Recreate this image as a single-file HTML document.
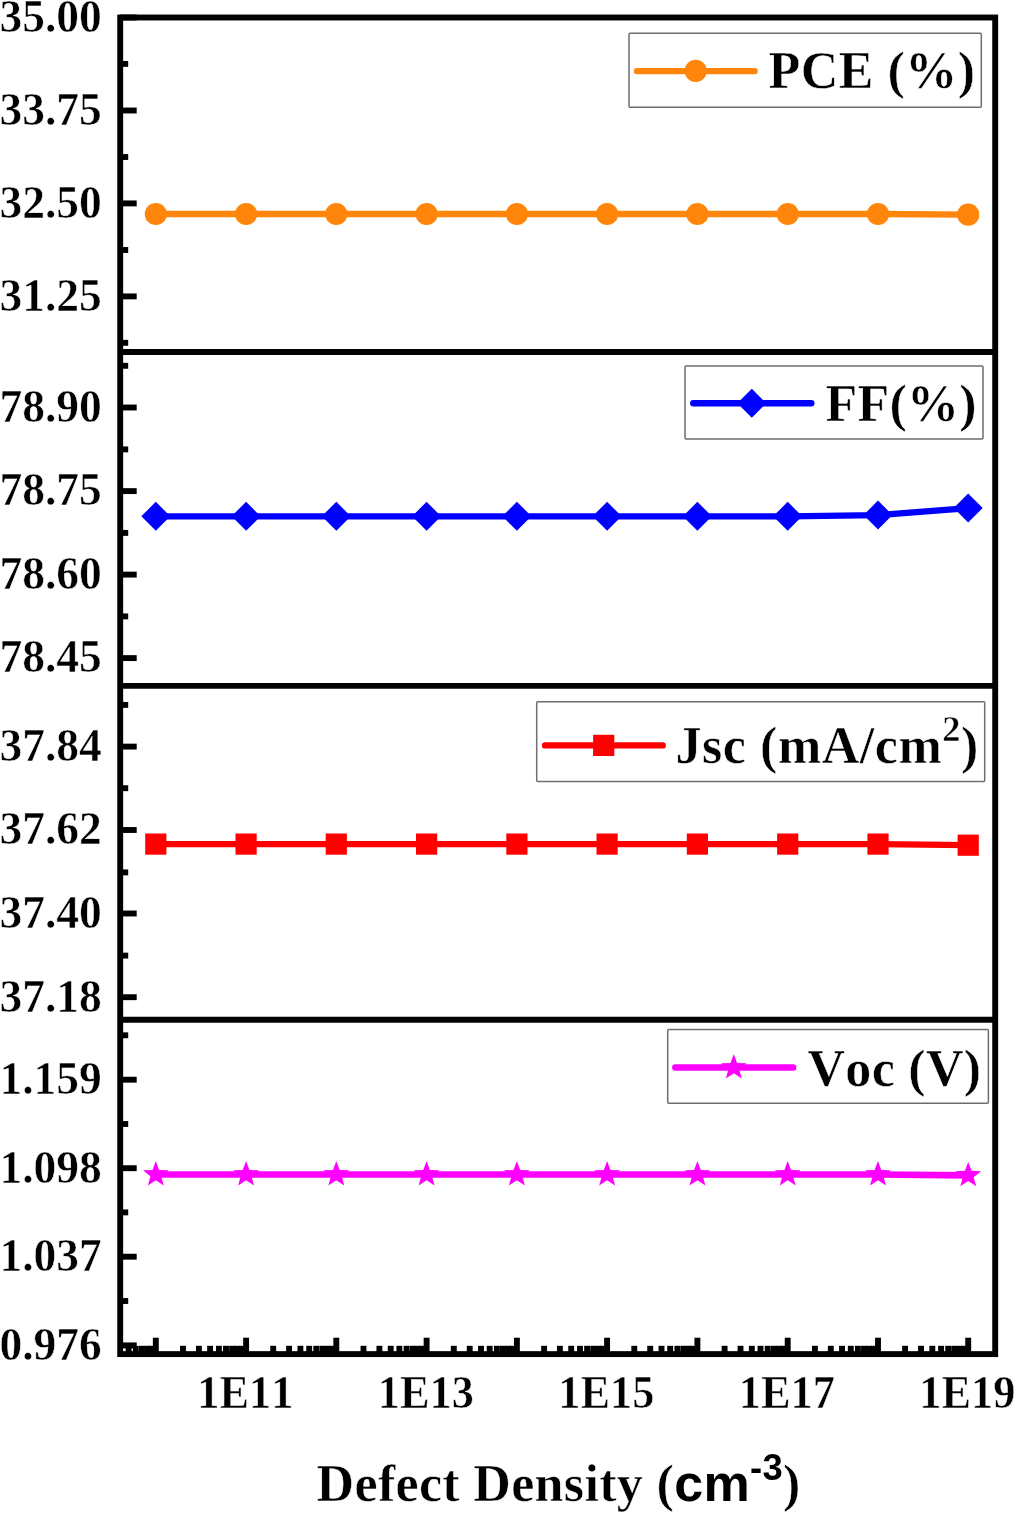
<!DOCTYPE html>
<html lang="en"><head><meta charset="utf-8"><title>Defect Density</title>
<style>html,body{margin:0;padding:0;background:#fff}body{width:1016px;height:1514px;overflow:hidden}svg{display:block}text{font-kerning:none;stroke:#fff;stroke-width:0.5px;font-family:"Liberation Serif","Times New Roman",serif;font-weight:bold;fill:#000}.tk{font-size:45.5px}.lg{font-size:52px}.ax{font-size:52px}.sans{stroke:none;font-family:"Liberation Sans",Arial,sans-serif}</style></head><body>
<svg width="1016" height="1514" viewBox="0 0 1016 1514">
<rect width="1016" height="1514" fill="#fff"/>
<polyline points="155.8,214.0 246.1,214.0 336.3,214.0 426.6,214.0 516.9,214.0 607.1,214.0 697.4,214.0 787.7,214.0 878.0,214.0 968.2,214.7" fill="none" stroke="#FF860A" stroke-width="6.3" stroke-linejoin="round"/>
<circle cx="155.8" cy="214.0" r="11.1" fill="#FF860A"/>
<circle cx="246.1" cy="214.0" r="11.1" fill="#FF860A"/>
<circle cx="336.3" cy="214.0" r="11.1" fill="#FF860A"/>
<circle cx="426.6" cy="214.0" r="11.1" fill="#FF860A"/>
<circle cx="516.9" cy="214.0" r="11.1" fill="#FF860A"/>
<circle cx="607.1" cy="214.0" r="11.1" fill="#FF860A"/>
<circle cx="697.4" cy="214.0" r="11.1" fill="#FF860A"/>
<circle cx="787.7" cy="214.0" r="11.1" fill="#FF860A"/>
<circle cx="878.0" cy="214.0" r="11.1" fill="#FF860A"/>
<circle cx="968.2" cy="214.7" r="11.1" fill="#FF860A"/>
<polyline points="155.8,516.3 246.1,516.3 336.3,516.3 426.6,516.3 516.9,516.3 607.1,516.3 697.4,516.3 787.7,516.3 878.0,515.1 968.2,508.1" fill="none" stroke="#0000FF" stroke-width="6.3" stroke-linejoin="round"/>
<polygon points="155.8,501.8 170.3,516.3 155.8,530.8 141.3,516.3" fill="#0000FF"/>
<polygon points="246.1,501.8 260.6,516.3 246.1,530.8 231.6,516.3" fill="#0000FF"/>
<polygon points="336.3,501.8 350.8,516.3 336.3,530.8 321.8,516.3" fill="#0000FF"/>
<polygon points="426.6,501.8 441.1,516.3 426.6,530.8 412.1,516.3" fill="#0000FF"/>
<polygon points="516.9,501.8 531.4,516.3 516.9,530.8 502.4,516.3" fill="#0000FF"/>
<polygon points="607.1,501.8 621.6,516.3 607.1,530.8 592.6,516.3" fill="#0000FF"/>
<polygon points="697.4,501.8 711.9,516.3 697.4,530.8 682.9,516.3" fill="#0000FF"/>
<polygon points="787.7,501.8 802.2,516.3 787.7,530.8 773.2,516.3" fill="#0000FF"/>
<polygon points="878.0,500.6 892.5,515.1 878.0,529.6 863.5,515.1" fill="#0000FF"/>
<polygon points="968.2,493.6 982.7,508.1 968.2,522.6 953.7,508.1" fill="#0000FF"/>
<polyline points="155.8,844.1 246.1,844.1 336.3,844.1 426.6,844.1 516.9,844.1 607.1,844.1 697.4,844.1 787.7,844.1 878.0,844.1 968.2,845.2" fill="none" stroke="#FF0000" stroke-width="6.3" stroke-linejoin="round"/>
<rect x="145.2" y="833.5" width="21.2" height="21.2" fill="#FF0000"/>
<rect x="235.5" y="833.5" width="21.2" height="21.2" fill="#FF0000"/>
<rect x="325.7" y="833.5" width="21.2" height="21.2" fill="#FF0000"/>
<rect x="416.0" y="833.5" width="21.2" height="21.2" fill="#FF0000"/>
<rect x="506.3" y="833.5" width="21.2" height="21.2" fill="#FF0000"/>
<rect x="596.5" y="833.5" width="21.2" height="21.2" fill="#FF0000"/>
<rect x="686.8" y="833.5" width="21.2" height="21.2" fill="#FF0000"/>
<rect x="777.1" y="833.5" width="21.2" height="21.2" fill="#FF0000"/>
<rect x="867.4" y="833.5" width="21.2" height="21.2" fill="#FF0000"/>
<rect x="957.6" y="834.6" width="21.2" height="21.2" fill="#FF0000"/>
<polyline points="155.8,1174.5 246.1,1174.5 336.3,1174.5 426.6,1174.5 516.9,1174.5 607.1,1174.5 697.4,1174.5 787.7,1174.5 878.0,1174.5 968.2,1175.4" fill="none" stroke="#FF00FF" stroke-width="6.7" stroke-linejoin="round"/>
<polygon points="155.8,1161.0 159.1,1169.9 168.6,1170.3 161.2,1176.3 163.7,1185.4 155.8,1180.2 147.9,1185.4 150.4,1176.3 143.0,1170.3 152.5,1169.9" fill="#FF00FF"/>
<polygon points="246.1,1161.0 249.4,1169.9 258.9,1170.3 251.5,1176.3 254.0,1185.4 246.1,1180.2 238.1,1185.4 240.7,1176.3 233.2,1170.3 242.7,1169.9" fill="#FF00FF"/>
<polygon points="336.3,1161.0 339.7,1169.9 349.2,1170.3 341.7,1176.3 344.3,1185.4 336.3,1180.2 328.4,1185.4 330.9,1176.3 323.5,1170.3 333.0,1169.9" fill="#FF00FF"/>
<polygon points="426.6,1161.0 429.9,1169.9 439.4,1170.3 432.0,1176.3 434.5,1185.4 426.6,1180.2 418.7,1185.4 421.2,1176.3 413.8,1170.3 423.3,1169.9" fill="#FF00FF"/>
<polygon points="516.9,1161.0 520.2,1169.9 529.7,1170.3 522.3,1176.3 524.8,1185.4 516.9,1180.2 508.9,1185.4 511.5,1176.3 504.0,1170.3 513.5,1169.9" fill="#FF00FF"/>
<polygon points="607.1,1161.0 610.5,1169.9 620.0,1170.3 612.5,1176.3 615.1,1185.4 607.1,1180.2 599.2,1185.4 601.8,1176.3 594.3,1170.3 603.8,1169.9" fill="#FF00FF"/>
<polygon points="697.4,1161.0 700.8,1169.9 710.3,1170.3 702.8,1176.3 705.4,1185.4 697.4,1180.2 689.5,1185.4 692.0,1176.3 684.6,1170.3 694.1,1169.9" fill="#FF00FF"/>
<polygon points="787.7,1161.0 791.0,1169.9 800.5,1170.3 793.1,1176.3 795.6,1185.4 787.7,1180.2 779.8,1185.4 782.3,1176.3 774.9,1170.3 784.4,1169.9" fill="#FF00FF"/>
<polygon points="878.0,1161.0 881.3,1169.9 890.8,1170.3 883.4,1176.3 885.9,1185.4 878.0,1180.2 870.0,1185.4 872.6,1176.3 865.1,1170.3 874.6,1169.9" fill="#FF00FF"/>
<polygon points="968.2,1161.9 971.6,1170.8 981.1,1171.2 973.6,1177.2 976.2,1186.3 968.2,1181.1 960.3,1186.3 962.8,1177.2 955.4,1171.2 964.9,1170.8" fill="#FF00FF"/>
<g stroke="#000" stroke-width="5.9" fill="none" stroke-linecap="butt">
<rect x="120.2" y="17.5" width="875.0" height="1336.6"/>
<line x1="120.2" y1="352.0" x2="995.2" y2="352.0"/>
<line x1="120.2" y1="685.9" x2="995.2" y2="685.9"/>
<line x1="120.2" y1="1019.8" x2="995.2" y2="1019.8"/>
<line x1="120.2" y1="17.5" x2="136.7" y2="17.5"/>
<line x1="120.2" y1="110.5" x2="136.7" y2="110.5"/>
<line x1="120.2" y1="203.4" x2="136.7" y2="203.4"/>
<line x1="120.2" y1="296.4" x2="136.7" y2="296.4"/>
<line x1="120.2" y1="407.5" x2="136.7" y2="407.5"/>
<line x1="120.2" y1="491.1" x2="136.7" y2="491.1"/>
<line x1="120.2" y1="574.6" x2="136.7" y2="574.6"/>
<line x1="120.2" y1="658.1" x2="136.7" y2="658.1"/>
<line x1="120.2" y1="746.6" x2="136.7" y2="746.6"/>
<line x1="120.2" y1="830.0" x2="136.7" y2="830.0"/>
<line x1="120.2" y1="913.5" x2="136.7" y2="913.5"/>
<line x1="120.2" y1="997.2" x2="136.7" y2="997.2"/>
<line x1="120.2" y1="1079.7" x2="136.7" y2="1079.7"/>
<line x1="120.2" y1="1168.2" x2="136.7" y2="1168.2"/>
<line x1="120.2" y1="1256.7" x2="136.7" y2="1256.7"/>
<line x1="120.2" y1="1345.4" x2="136.7" y2="1345.4"/>
<line x1="120.2" y1="63.9" x2="128.2" y2="63.9"/>
<line x1="120.2" y1="157.0" x2="128.2" y2="157.0"/>
<line x1="120.2" y1="250.0" x2="128.2" y2="250.0"/>
<line x1="120.2" y1="342.8" x2="128.2" y2="342.8"/>
<line x1="120.2" y1="365.8" x2="128.2" y2="365.8"/>
<line x1="120.2" y1="449.4" x2="128.2" y2="449.4"/>
<line x1="120.2" y1="532.9" x2="128.2" y2="532.9"/>
<line x1="120.2" y1="616.4" x2="128.2" y2="616.4"/>
<line x1="120.2" y1="704.9" x2="128.2" y2="704.9"/>
<line x1="120.2" y1="788.2" x2="128.2" y2="788.2"/>
<line x1="120.2" y1="872.4" x2="128.2" y2="872.4"/>
<line x1="120.2" y1="955.6" x2="128.2" y2="955.6"/>
<line x1="120.2" y1="1035.3" x2="128.2" y2="1035.3"/>
<line x1="120.2" y1="1124.0" x2="128.2" y2="1124.0"/>
<line x1="120.2" y1="1212.4" x2="128.2" y2="1212.4"/>
<line x1="120.2" y1="1301.0" x2="128.2" y2="1301.0"/>
<line x1="128.6" y1="1354.1" x2="128.6" y2="1345.8"/>
<line x1="135.8" y1="1354.1" x2="135.8" y2="1345.8"/>
<line x1="141.8" y1="1354.1" x2="141.8" y2="1345.8"/>
<line x1="147.1" y1="1354.1" x2="147.1" y2="1345.8"/>
<line x1="151.7" y1="1354.1" x2="151.7" y2="1345.8"/>
<line x1="155.8" y1="1354.1" x2="155.8" y2="1337.7"/>
<line x1="183.0" y1="1354.1" x2="183.0" y2="1345.8"/>
<line x1="198.9" y1="1354.1" x2="198.9" y2="1345.8"/>
<line x1="210.1" y1="1354.1" x2="210.1" y2="1345.8"/>
<line x1="218.9" y1="1354.1" x2="218.9" y2="1345.8"/>
<line x1="226.0" y1="1354.1" x2="226.0" y2="1345.8"/>
<line x1="232.1" y1="1354.1" x2="232.1" y2="1345.8"/>
<line x1="237.3" y1="1354.1" x2="237.3" y2="1345.8"/>
<line x1="241.9" y1="1354.1" x2="241.9" y2="1345.8"/>
<line x1="246.1" y1="1354.1" x2="246.1" y2="1337.7"/>
<line x1="273.2" y1="1354.1" x2="273.2" y2="1345.8"/>
<line x1="289.1" y1="1354.1" x2="289.1" y2="1345.8"/>
<line x1="300.4" y1="1354.1" x2="300.4" y2="1345.8"/>
<line x1="309.2" y1="1354.1" x2="309.2" y2="1345.8"/>
<line x1="316.3" y1="1354.1" x2="316.3" y2="1345.8"/>
<line x1="322.4" y1="1354.1" x2="322.4" y2="1345.8"/>
<line x1="327.6" y1="1354.1" x2="327.6" y2="1345.8"/>
<line x1="332.2" y1="1354.1" x2="332.2" y2="1345.8"/>
<line x1="336.3" y1="1354.1" x2="336.3" y2="1337.7"/>
<line x1="363.5" y1="1354.1" x2="363.5" y2="1345.8"/>
<line x1="379.4" y1="1354.1" x2="379.4" y2="1345.8"/>
<line x1="390.7" y1="1354.1" x2="390.7" y2="1345.8"/>
<line x1="399.4" y1="1354.1" x2="399.4" y2="1345.8"/>
<line x1="406.6" y1="1354.1" x2="406.6" y2="1345.8"/>
<line x1="412.6" y1="1354.1" x2="412.6" y2="1345.8"/>
<line x1="417.9" y1="1354.1" x2="417.9" y2="1345.8"/>
<line x1="422.5" y1="1354.1" x2="422.5" y2="1345.8"/>
<line x1="426.6" y1="1354.1" x2="426.6" y2="1337.7"/>
<line x1="453.8" y1="1354.1" x2="453.8" y2="1345.8"/>
<line x1="469.7" y1="1354.1" x2="469.7" y2="1345.8"/>
<line x1="481.0" y1="1354.1" x2="481.0" y2="1345.8"/>
<line x1="489.7" y1="1354.1" x2="489.7" y2="1345.8"/>
<line x1="496.9" y1="1354.1" x2="496.9" y2="1345.8"/>
<line x1="502.9" y1="1354.1" x2="502.9" y2="1345.8"/>
<line x1="508.1" y1="1354.1" x2="508.1" y2="1345.8"/>
<line x1="512.7" y1="1354.1" x2="512.7" y2="1345.8"/>
<line x1="516.9" y1="1354.1" x2="516.9" y2="1337.7"/>
<line x1="544.1" y1="1354.1" x2="544.1" y2="1345.8"/>
<line x1="559.9" y1="1354.1" x2="559.9" y2="1345.8"/>
<line x1="571.2" y1="1354.1" x2="571.2" y2="1345.8"/>
<line x1="580.0" y1="1354.1" x2="580.0" y2="1345.8"/>
<line x1="587.1" y1="1354.1" x2="587.1" y2="1345.8"/>
<line x1="593.2" y1="1354.1" x2="593.2" y2="1345.8"/>
<line x1="598.4" y1="1354.1" x2="598.4" y2="1345.8"/>
<line x1="603.0" y1="1354.1" x2="603.0" y2="1345.8"/>
<line x1="607.1" y1="1354.1" x2="607.1" y2="1337.7"/>
<line x1="634.3" y1="1354.1" x2="634.3" y2="1345.8"/>
<line x1="650.2" y1="1354.1" x2="650.2" y2="1345.8"/>
<line x1="661.5" y1="1354.1" x2="661.5" y2="1345.8"/>
<line x1="670.2" y1="1354.1" x2="670.2" y2="1345.8"/>
<line x1="677.4" y1="1354.1" x2="677.4" y2="1345.8"/>
<line x1="683.4" y1="1354.1" x2="683.4" y2="1345.8"/>
<line x1="688.7" y1="1354.1" x2="688.7" y2="1345.8"/>
<line x1="693.3" y1="1354.1" x2="693.3" y2="1345.8"/>
<line x1="697.4" y1="1354.1" x2="697.4" y2="1337.7"/>
<line x1="724.6" y1="1354.1" x2="724.6" y2="1345.8"/>
<line x1="740.5" y1="1354.1" x2="740.5" y2="1345.8"/>
<line x1="751.8" y1="1354.1" x2="751.8" y2="1345.8"/>
<line x1="760.5" y1="1354.1" x2="760.5" y2="1345.8"/>
<line x1="767.7" y1="1354.1" x2="767.7" y2="1345.8"/>
<line x1="773.7" y1="1354.1" x2="773.7" y2="1345.8"/>
<line x1="778.9" y1="1354.1" x2="778.9" y2="1345.8"/>
<line x1="783.6" y1="1354.1" x2="783.6" y2="1345.8"/>
<line x1="787.7" y1="1354.1" x2="787.7" y2="1337.7"/>
<line x1="814.9" y1="1354.1" x2="814.9" y2="1345.8"/>
<line x1="830.8" y1="1354.1" x2="830.8" y2="1345.8"/>
<line x1="842.0" y1="1354.1" x2="842.0" y2="1345.8"/>
<line x1="850.8" y1="1354.1" x2="850.8" y2="1345.8"/>
<line x1="857.9" y1="1354.1" x2="857.9" y2="1345.8"/>
<line x1="864.0" y1="1354.1" x2="864.0" y2="1345.8"/>
<line x1="869.2" y1="1354.1" x2="869.2" y2="1345.8"/>
<line x1="873.8" y1="1354.1" x2="873.8" y2="1345.8"/>
<line x1="878.0" y1="1354.1" x2="878.0" y2="1337.7"/>
<line x1="905.1" y1="1354.1" x2="905.1" y2="1345.8"/>
<line x1="921.0" y1="1354.1" x2="921.0" y2="1345.8"/>
<line x1="932.3" y1="1354.1" x2="932.3" y2="1345.8"/>
<line x1="941.1" y1="1354.1" x2="941.1" y2="1345.8"/>
<line x1="948.2" y1="1354.1" x2="948.2" y2="1345.8"/>
<line x1="954.2" y1="1354.1" x2="954.2" y2="1345.8"/>
<line x1="959.5" y1="1354.1" x2="959.5" y2="1345.8"/>
<line x1="964.1" y1="1354.1" x2="964.1" y2="1345.8"/>
<line x1="968.2" y1="1354.1" x2="968.2" y2="1337.7"/>
</g>
<text class="tk" transform="translate(101.8,31.8) scale(1,1)" text-anchor="end">35.00</text>
<text class="tk" transform="translate(101.8,124.8) scale(1,1)" text-anchor="end">33.75</text>
<text class="tk" transform="translate(101.8,217.7) scale(1,1)" text-anchor="end">32.50</text>
<text class="tk" transform="translate(101.8,310.7) scale(1,1)" text-anchor="end">31.25</text>
<text class="tk" transform="translate(101.8,421.8) scale(1,1)" text-anchor="end">78.90</text>
<text class="tk" transform="translate(101.8,505.4) scale(1,1)" text-anchor="end">78.75</text>
<text class="tk" transform="translate(101.8,588.9) scale(1,1)" text-anchor="end">78.60</text>
<text class="tk" transform="translate(101.8,672.4) scale(1,1)" text-anchor="end">78.45</text>
<text class="tk" transform="translate(101.8,760.9) scale(1,1)" text-anchor="end">37.84</text>
<text class="tk" transform="translate(101.8,844.3) scale(1,1)" text-anchor="end">37.62</text>
<text class="tk" transform="translate(101.8,927.8) scale(1,1)" text-anchor="end">37.40</text>
<text class="tk" transform="translate(101.8,1011.5) scale(1,1)" text-anchor="end">37.18</text>
<text class="tk" transform="translate(101.8,1094.0) scale(1,1)" text-anchor="end">1.159</text>
<text class="tk" transform="translate(101.8,1182.5) scale(1,1)" text-anchor="end">1.098</text>
<text class="tk" transform="translate(101.8,1271.0) scale(1,1)" text-anchor="end">1.037</text>
<text class="tk" transform="translate(101.8,1359.7) scale(1,1)" text-anchor="end">0.976</text>
<text class="tk" transform="translate(245.3,1408) scale(0.975,1)" text-anchor="middle">1E11</text>
<text class="tk" transform="translate(425.8,1408) scale(0.975,1)" text-anchor="middle">1E13</text>
<text class="tk" transform="translate(606.4,1408) scale(0.975,1)" text-anchor="middle">1E15</text>
<text class="tk" transform="translate(786.9,1408) scale(0.975,1)" text-anchor="middle">1E17</text>
<text class="tk" transform="translate(967.4,1408) scale(0.975,1)" text-anchor="middle">1E19</text>
<text class="ax" x="316.6" y="1500.8" style="letter-spacing:0.33px">Defect Density (<tspan class="sans" style="font-size:52px">cm</tspan><tspan class="sans" style="font-size:36.4px" dy="-20.7">-3</tspan><tspan dy="20.7">)</tspan></text>
<rect x="629.0" y="33.3" width="352.3" height="73.9" fill="#fff" stroke="#6e6e6e" stroke-width="1.5" rx="1"/>
<line x1="637.0" y1="71.1" x2="754.6" y2="71.1" stroke="#FF860A" stroke-width="6.4" stroke-linecap="round"/>
<circle cx="695.7" cy="70.8" r="11.1" fill="#FF860A"/>
<text class="lg" x="768.5" y="87.7" style="letter-spacing:0.5px">PCE (%)</text>
<rect x="685.0" y="366.0" width="298.0" height="73.1" fill="#fff" stroke="#6e6e6e" stroke-width="1.5" rx="1"/>
<line x1="693.3" y1="403.3" x2="811.3" y2="403.3" stroke="#0000FF" stroke-width="6.4" stroke-linecap="round"/>
<polygon points="751.8,388.8 766.3,403.3 751.8,417.8 737.3,403.3" fill="#0000FF"/>
<text class="lg" x="825.6" y="420.6" style="letter-spacing:0.2px">FF(%)</text>
<rect x="536.7" y="701.8" width="448.0" height="79.7" fill="#fff" stroke="#6e6e6e" stroke-width="1.5" rx="1"/>
<line x1="545.1" y1="745.4" x2="662.7" y2="745.4" stroke="#FF0000" stroke-width="6.4" stroke-linecap="round"/>
<rect x="593.1" y="734.8" width="21.2" height="21.2" fill="#FF0000"/>
<text class="lg" x="675.5" y="762.6" style="letter-spacing:0.55px">Jsc (mA/cm<tspan style="font-size:36.4px" dy="-21.3">2</tspan><tspan dy="21.3">)</tspan></text>
<rect x="667.7" y="1029.6" width="320.7" height="73.7" fill="#fff" stroke="#6e6e6e" stroke-width="1.5" rx="1"/>
<line x1="675.3" y1="1067.5" x2="793.2" y2="1067.5" stroke="#FF00FF" stroke-width="6.4" stroke-linecap="round"/>
<polygon points="733.8,1054.0 737.1,1062.9 746.6,1063.3 739.2,1069.3 741.7,1078.4 733.8,1073.2 725.9,1078.4 728.4,1069.3 721.0,1063.3 730.5,1062.9" fill="#FF00FF"/>
<text class="lg" x="807.5" y="1085.6" style="letter-spacing:0.3px">Voc (V)</text>
</svg></body></html>
